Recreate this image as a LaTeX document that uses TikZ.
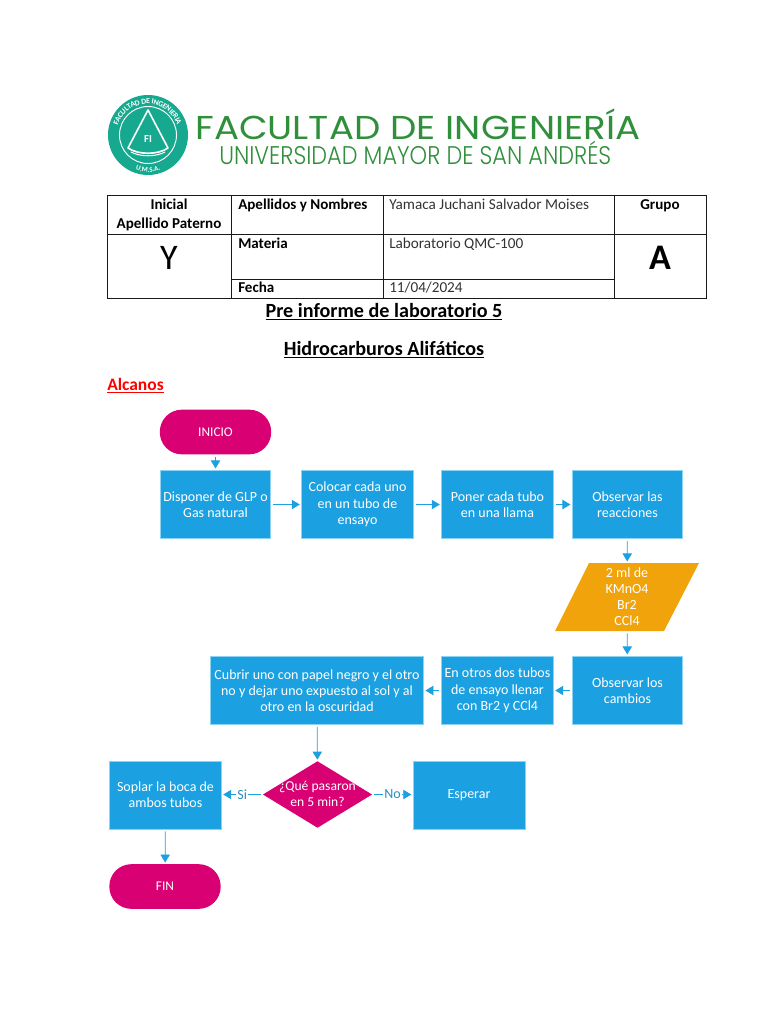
\documentclass[tikz,border=0pt]{standalone}
\usepackage{fontspec}
\usepackage{graphicx}
\setmainfont{Carlito}
\newfontfamily\logofont{Poppins}
\newfontfamily\logofontb{Poppins Light}
\usetikzlibrary{shapes.geometric,arrows.meta,decorations.text}
\definecolor{fblue}{HTML}{1BA1E2}
\definecolor{fedge}{HTML}{8FD3F2}
\definecolor{flabel}{HTML}{2B8CBE}
\definecolor{fpink}{HTML}{D80073}
\definecolor{forange}{HTML}{F0A30A}
\definecolor{lgreen}{HTML}{2F8F3A}
\definecolor{lteal}{HTML}{17A98F}
\tikzset{
  x=0.75pt,y=-0.75pt,
  proc/.style={draw=fedge,line width=0.6pt,fill=fblue,text=white,inner sep=1pt,align=center,font=\fontsize{10.5}{12.2}\selectfont},
  term/.style={fill=fpink,text=white,rounded corners=16.5pt,inner sep=0pt,align=center,minimum width=83.5pt,minimum height=33.5pt,font=\fontsize{10}{12}\selectfont},
  deci/.style={diamond,fill=fpink,inner sep=0pt,minimum width=82pt,minimum height=50pt,aspect=1.64},
  dtext/.style={text=white,align=center,inner sep=0pt,font=\fontsize{10.2}{12.2}\selectfont},
  inp/.style={text=white,align=center,inner sep=0pt,minimum width=82pt,minimum height=51pt,font=\fontsize{10.5}{12}\selectfont},
  flow/.style={draw=fblue,line width=0.6pt,-{Triangle[length=6pt,width=7pt]},shorten <=1.5pt,shorten >=1pt},
  flowlab/.style={fill=white,text=flabel,inner sep=1pt,font=\fontsize{10.5}{11}\selectfont},
  cellb/.style={anchor=base west,inner sep=0pt,font=\fontsize{11.3}{13}\bfseries\selectfont},
  cellr/.style={anchor=base west,inner sep=0pt,text=black!80,font=\fontsize{11.4}{13}\selectfont},
  head/.style={anchor=base,inner sep=0pt,font=\fontsize{15.1}{18}\bfseries\selectfont},
  tline/.style={draw=black!90,line width=0.7pt},
}
\begin{document}
\begin{tikzpicture}
\path[use as bounding box,fill=white] (0,0) rectangle (768,1024);
% logo
\fill[lteal] (148,135) circle (40);
\draw[white,line width=0.7pt] (148,135) circle (28.5);
\path[decorate,decoration={text along path,text align=center,text color=white,raise=-1.8pt,
  text={|\fontsize{5.8}{6}\bfseries\selectfont|FACULTAD DE INGENIERIA}}]
  (115,143) arc (166:374:33.5);
\path[decorate,decoration={text along path,text align=center,text color=white,raise=0pt,
  text={|\fontsize{5.2}{6}\bfseries\selectfont|U.M.S.A.}}]
  (128.4,166.4) arc (122:58:37);
\draw[white,line width=1.2pt,line join=round] (148,110) -- (128,148) .. controls (138,155) and (158,155) .. (168,148) -- cycle;
\draw[white,line width=0.8pt] (131,152) .. controls (140,157) and (156,157) .. (165,152);
\node[text=white,inner sep=0pt,font=\fontsize{8}{8}\bfseries\selectfont] (logoFI) at (148,139) {FI};
\node[text=lgreen,inner sep=0pt,anchor=west] (logoA) at (195,124.5) {\resizebox{333.75pt}{23pt}{\logofont FACULTAD DE INGENIERÍA}};
\node[text=lgreen,inner sep=0pt,anchor=west] (logoB) at (219,153) {\resizebox{294pt}{17.5pt}{\logofontb UNIVERSIDAD MAYOR DE SAN ANDRÉS}};
% table
\draw[tline] (107,195) rectangle (706,298);
\draw[tline] (107,234) -- (706,234);
\draw[tline] (231,279) -- (614,279);
\draw[tline] (231,195) -- (231,298);
\draw[tline] (383,195) -- (383,298);
\draw[tline] (614,195) -- (614,298);
\node[cellb,anchor=base] (c1) at (169,209) {Inicial};
\node[cellb,anchor=base] (c2) at (169,228) {Apellido Paterno};
\node[cellb] (c3) at (238,209) {Apellidos y Nombres};
\node[cellr] (c4) at (389,209) {Yamaca Juchani Salvador Moises};
\node[cellb,anchor=base] (c5) at (660,209) {Grupo};
\node[cellb] (c6) at (238,248) {Materia};
\node[cellr] (c7) at (389,248) {Laboratorio QMC-100};
\node[cellb] (c8) at (238,292) {Fecha};
\node[cellr] (c9) at (389,292) {11/04/2024};
\node[anchor=base,inner sep=0pt,font=\fontsize{27}{27}\selectfont] (c10) at (169,269) {Y};
\node[anchor=base,inner sep=0pt,font=\fontsize{27}{27}\bfseries\selectfont] (c11) at (660,269) {A};
% headings
\node[head] (t1) at (384,317) {\underline{Pre informe de laboratorio 5}};
\node[head] (t2) at (384,355) {\underline{Hidrocarburos Alifáticos}};
\node[head,anchor=base west,text=red,font=\fontsize{13.1}{15}\bfseries\selectfont] (t3) at (107,390) {\underline{Alcanos}};
% flowchart
\node[term] (inicio) at (215.5,432) {INICIO};
\node[proc,minimum width=83pt,minimum height=51.5pt] (b1) at (215.5,504.5) {Disponer de GLP o\\Gas natural};
\node[proc,minimum width=84pt,minimum height=51.5pt] (b2) at (357.5,504.5) {Colocar cada uno\\en un tubo de\\ensayo};
\node[proc,minimum width=84pt,minimum height=51.5pt] (b3) at (497.5,504.5) {Poner cada tubo\\en una llama};
\node[proc,minimum width=83pt,minimum height=51.5pt] (b4) at (627.5,504.5) {Observar las\\reacciones};
\fill[forange] (589,563) -- (699,563) -- (664,631) -- (555,631) -- cycle;
\node[inp] (input) at (627,597) {2 ml de\\KMnO4\\Br2\\CCl4};
\node[proc,minimum width=83pt,minimum height=51.5pt] (b5) at (627.5,690.5) {Observar los\\cambios};
\node[proc,minimum width=84pt,minimum height=51.5pt] (b6) at (497.5,690.5) {En otros dos tubos\\de ensayo llenar\\con Br2 y CCl4};
\node[proc,minimum width=160pt,minimum height=51.5pt] (b7) at (317,690.5) {Cubrir uno con papel negro y el otro\\no y dejar uno expuesto al sol y al\\otro en la oscuridad};
\node[deci] (q) at (317.5,794.5) {};
\node[dtext] (qt) at (317.5,794) {¿Qué pasaron\\en 5 min?};
\node[proc,minimum width=84pt,minimum height=51pt] (b8) at (165.5,795) {Soplar la boca de\\ambos tubos};
\node[proc,minimum width=84pt,minimum height=51pt] (b9) at (469,795) {Esperar};
\node[term] (fin) at (165,886.5) {FIN};
\draw[flow] (inicio) -- (b1);
\draw[flow] (b1) -- (b2);
\draw[flow] (b2) -- (b3);
\draw[flow] (b3) -- (b4);
\draw[flow] (b4) -- (input);
\draw[flow] (input) -- (b5);
\draw[flow] (b5) -- (b6);
\draw[flow] (b6) -- (b7);
\draw[flow] (b7) -- (q);
\draw[flow] (q.west) -- node[flowlab] {Si} (b8.east |- q.west);
\draw[flow] (q.east) -- node[flowlab] {No} (b9.west |- q.east);
\draw[flow] (b8) -- (fin);
\end{tikzpicture}
\end{document}
